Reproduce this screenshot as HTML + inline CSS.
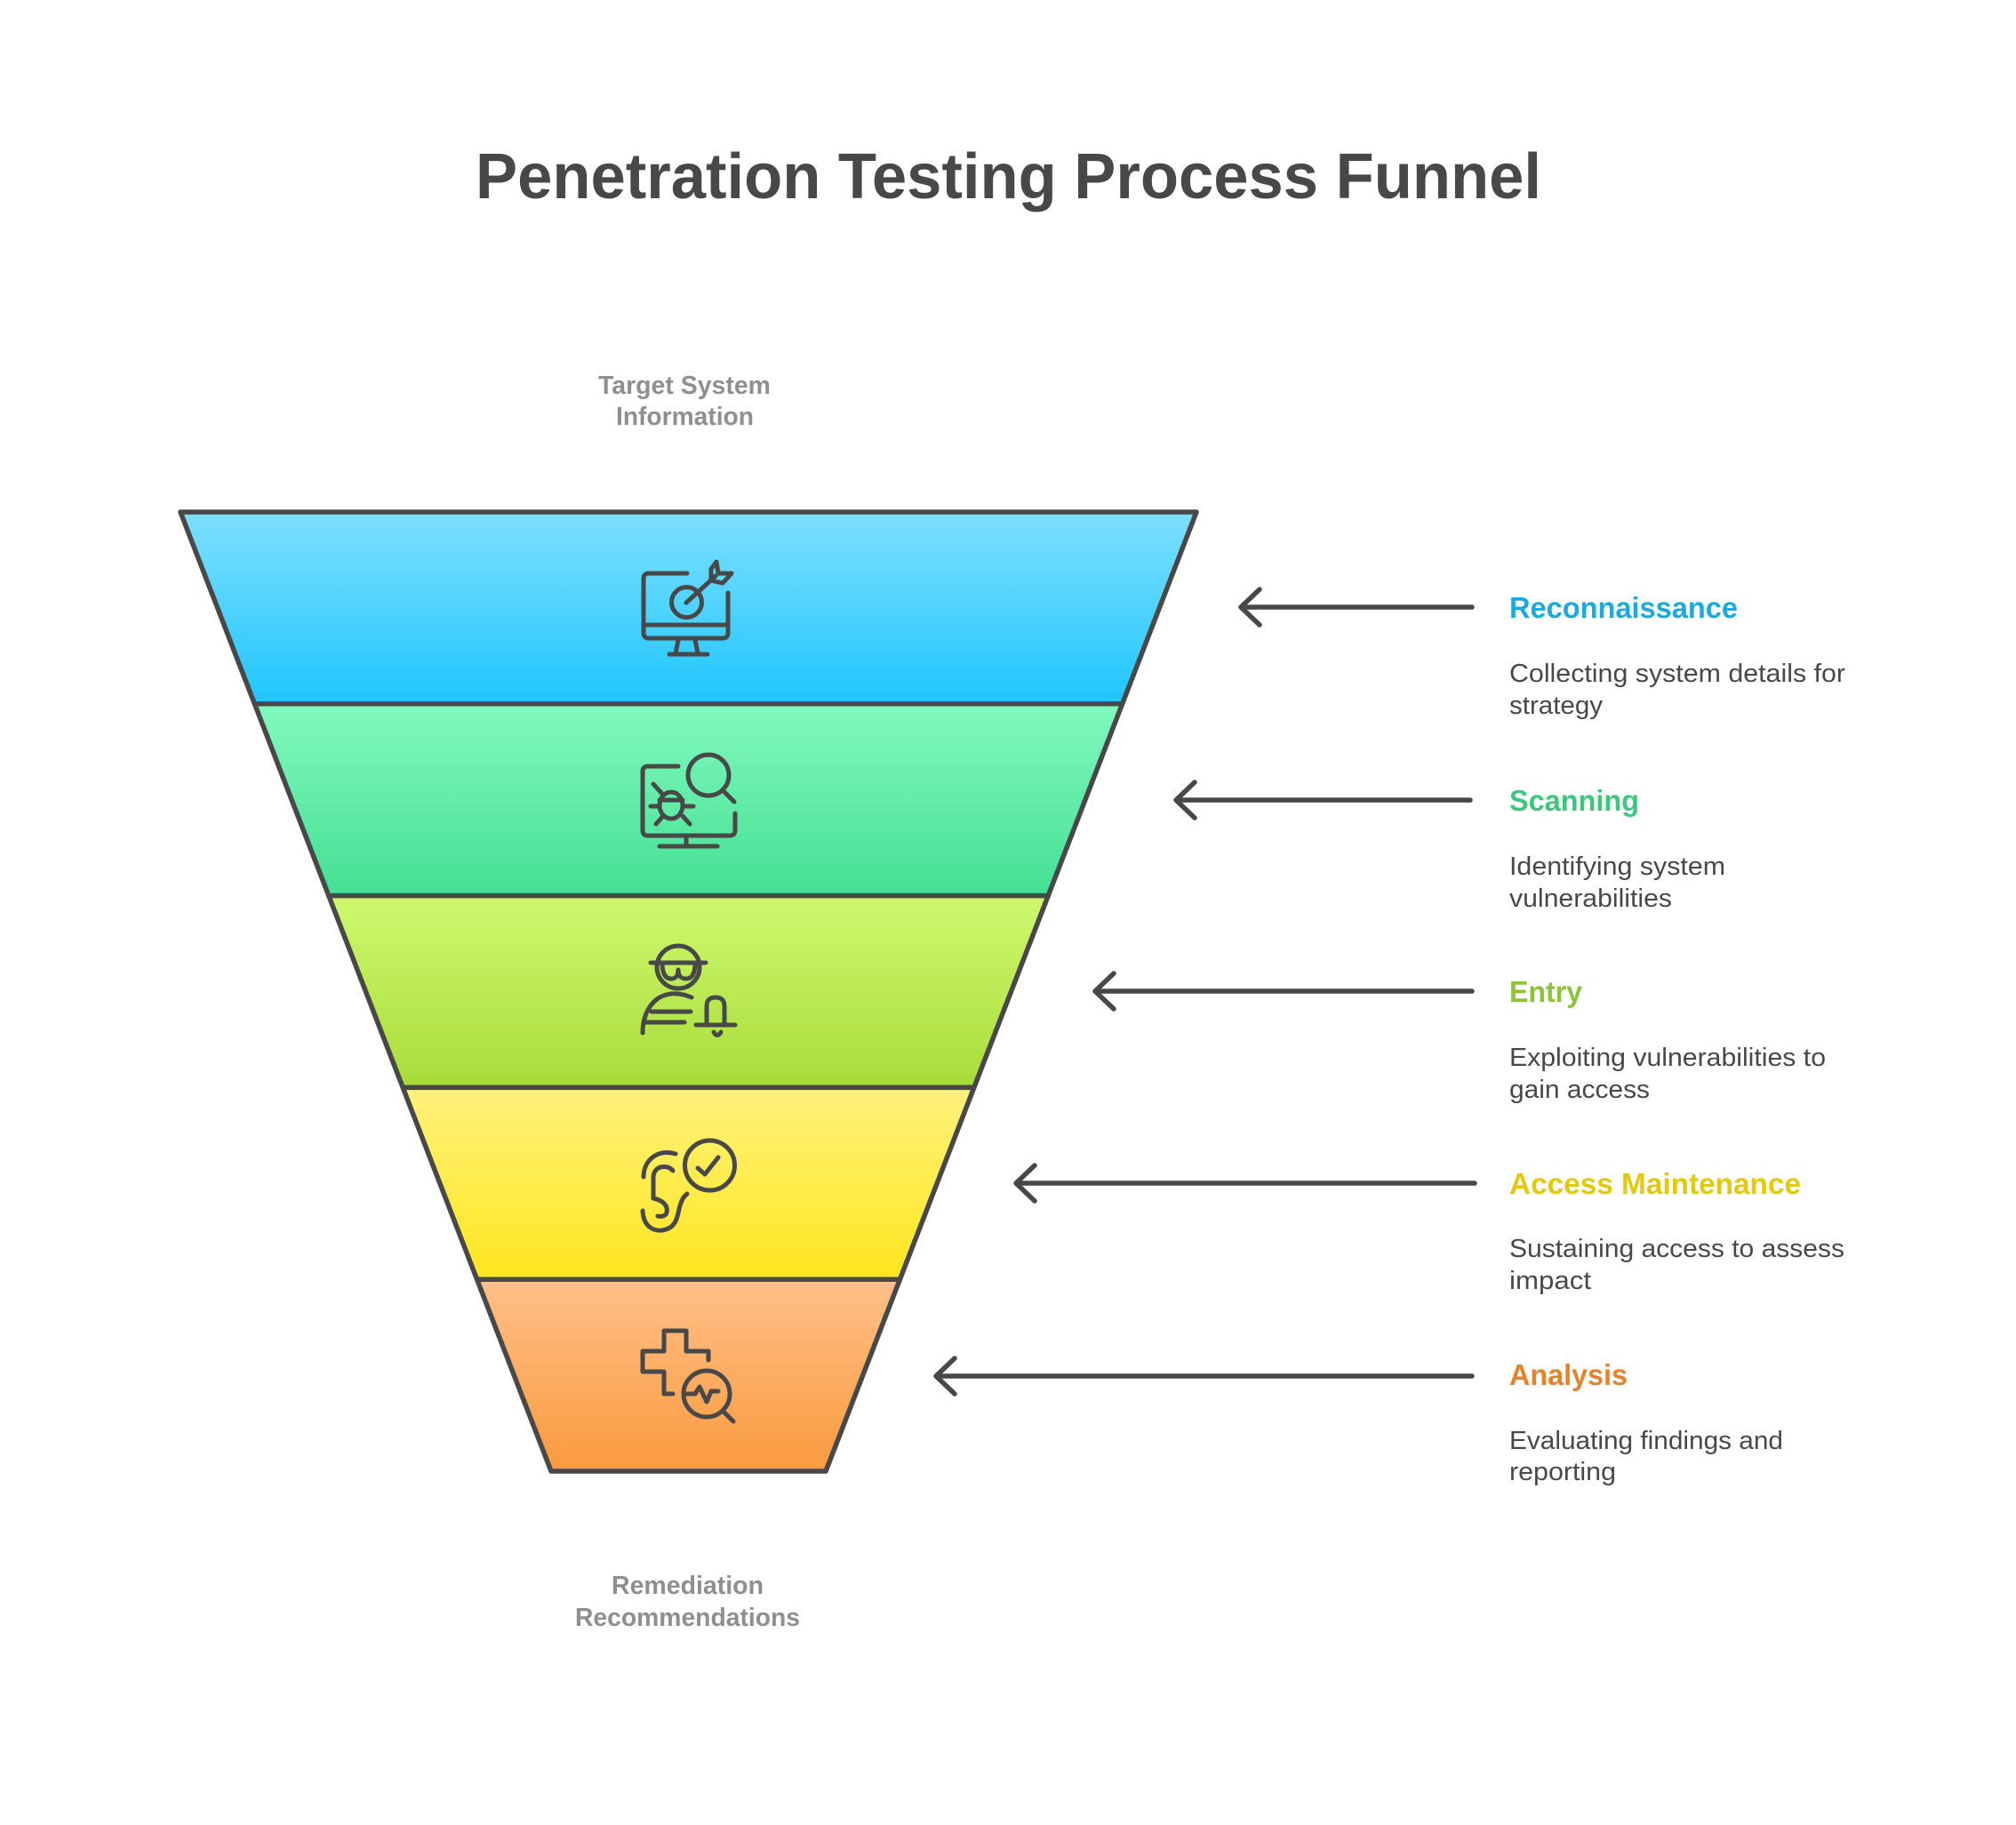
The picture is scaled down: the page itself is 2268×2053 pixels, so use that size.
<!DOCTYPE html>
<html>
<head>
<meta charset="utf-8">
<style>
  html, body { margin: 0; padding: 0; background: #ffffff; }
  body { width: 2268px; height: 2053px; overflow: hidden; }
  svg { display: block; }
  text { font-family: "Liberation Sans", Arial, sans-serif; }
</style>
</head>
<body>
<svg width="2268" height="2053" viewBox="0 0 2268 2053" xmlns="http://www.w3.org/2000/svg">
  <defs>
    <linearGradient id="g1" x1="0" y1="0" x2="0" y2="1">
      <stop offset="0" stop-color="#7edffe"/>
      <stop offset="1" stop-color="#1fc6fd"/>
    </linearGradient>
    <linearGradient id="g2" x1="0" y1="0" x2="0" y2="1">
      <stop offset="0" stop-color="#82f9be"/>
      <stop offset="1" stop-color="#44df93"/>
    </linearGradient>
    <linearGradient id="g3" x1="0" y1="0" x2="0" y2="1">
      <stop offset="0" stop-color="#cff86f"/>
      <stop offset="1" stop-color="#a8dc3a"/>
    </linearGradient>
    <linearGradient id="g4" x1="0" y1="0" x2="0" y2="1">
      <stop offset="0" stop-color="#fff27d"/>
      <stop offset="1" stop-color="#ffe61e"/>
    </linearGradient>
    <linearGradient id="g5" x1="0" y1="0" x2="0" y2="1">
      <stop offset="0" stop-color="#ffc089"/>
      <stop offset="1" stop-color="#fa9a3e"/>
    </linearGradient>
  </defs>

  <!-- Title -->
  <text x="535" y="223" font-size="72" font-weight="bold" fill="#484848" textLength="1199" lengthAdjust="spacingAndGlyphs">Penetration Testing Process Funnel</text>

  <!-- Top label -->
  <text x="673" y="443" font-size="29" font-weight="bold" fill="#8f8f8f" textLength="194" lengthAdjust="spacingAndGlyphs">Target System</text>
  <text x="693" y="478" font-size="29" font-weight="bold" fill="#8f8f8f" textLength="155" lengthAdjust="spacingAndGlyphs">Information</text>

  <!-- Bottom label -->
  <text x="688" y="1793" font-size="29" font-weight="bold" fill="#8f8f8f" textLength="171" lengthAdjust="spacingAndGlyphs">Remediation</text>
  <text x="647" y="1829" font-size="29" font-weight="bold" fill="#8f8f8f" textLength="253" lengthAdjust="spacingAndGlyphs">Recommendations</text>

  <!-- Funnel bands -->
  <g stroke="#484848" stroke-width="5.5" stroke-linejoin="round">
    <polygon points="203,576 1346,576 1262.6,791.8 286.4,791.8" fill="url(#g1)"/>
    <polygon points="286.4,791.8 1262.6,791.8 1179.2,1007.6 369.8,1007.6" fill="url(#g2)"/>
    <polygon points="369.8,1007.6 1179.2,1007.6 1095.8,1223.4 453.2,1223.4" fill="url(#g3)"/>
    <polygon points="453.2,1223.4 1095.8,1223.4 1012.4,1439.2 536.6,1439.2" fill="url(#g4)"/>
    <polygon points="536.6,1439.2 1012.4,1439.2 929,1655 620,1655" fill="url(#g5)"/>
  </g>

  <!-- Icons -->
  <g fill="none" stroke="#484848" stroke-width="5" stroke-linecap="round" stroke-linejoin="round">
    <!-- Icon 1: monitor with target -->
    <path d="M 773 645 L 730 645 Q 724 645 724 651 L 724 712 Q 724 718 730 718 L 813 718 Q 819 718 819 712 L 819 667"/>
    <path d="M 724 703 L 819 703"/>
    <path d="M 763 720 L 760 735 M 782 720 L 785 735 M 753 736 L 796 736"/>
    <circle cx="772.5" cy="677.5" r="17"/>
    <path d="M 772 678 L 805 648"/>
    <path d="M 800 653 L 800 640 L 806 632 L 808 645 L 823 645 L 813 656 Z"/>

    <!-- Icon 2: monitor with bug and magnifier -->
    <path d="M 763 862 L 729 862 Q 723 862 723 868 L 723 934 Q 723 940 729 940 L 821 940 Q 827 940 827 934 L 827 915"/>
    <path d="M 772 940 L 772 952 M 742 952 L 807 952"/>
    <circle cx="797" cy="872" r="23"/>
    <path d="M 814 890 L 826 902"/>
    <ellipse cx="755" cy="906" rx="13" ry="15"/>
    <path d="M 742 900 L 768 900"/>
    <path d="M 732 907 L 742 907 M 768 907 L 780 907"/>
    <path d="M 735 882 L 745 893 M 738 927 L 746 918 M 776 927 L 768 918"/>

    <!-- Icon 3: person with hat/glasses and bell -->
    <circle cx="763" cy="1088" r="24"/>
    <path d="M 732 1083 L 794 1083"/>
    <path d="M 745 1083 Q 745 1101 755 1101 Q 763 1101 763 1091 Q 763 1101 772 1101 Q 782 1101 782 1083"/>
    <path d="M 778 1122 C 745 1108 723 1130 723 1162"/>
    <path d="M 733 1138 L 777 1138 M 727 1150 L 770 1150"/>
    <path d="M 795 1153 L 795 1132 Q 795 1122 805 1122 Q 815 1122 815 1132 L 815 1153 M 783 1153 L 827 1153"/>
    <path d="M 803 1161 Q 807 1168 811 1161"/>

    <!-- Icon 4: ear with check -->
    <circle cx="798.5" cy="1311" r="28"/>
    <path d="M 785 1314 L 793 1321 L 808 1302"/>
    <path d="M 760 1298 C 740 1292 724 1305 724 1324"/>
    <path d="M 723 1362 C 724 1380 735 1385 745 1384 C 760 1382 762 1370 764 1360 C 766 1352 768 1347 773 1343"/>
    <path d="M 757 1317 C 752 1310 735 1310 735 1325 L 735 1348 C 745 1350 752 1356 750 1364 C 749 1368 744 1369 740 1368"/>

    <!-- Icon 5: cross with magnifier and pulse -->
    <path d="M 797 1530 L 797 1520 L 772 1520 L 772 1497 L 747 1497 L 747 1520 L 723 1520 L 723 1543 L 747 1543 L 747 1568 L 757 1568"/>
    <circle cx="795" cy="1568" r="26"/>
    <path d="M 815 1589 L 825 1599"/>
    <path d="M 772 1568 L 782 1568 L 787 1560 L 795 1577 L 800 1565 L 808 1565"/>
  </g>

  <!-- Arrows -->
  <g fill="none" stroke="#484848" stroke-width="5.5" stroke-linecap="round" stroke-linejoin="round">
    <path d="M 1656 683 L 1396 683 M 1417 663 L 1396 683 L 1417 703"/>
    <path d="M 1654 900 L 1323 900 M 1344 880 L 1323 900 L 1344 920"/>
    <path d="M 1656 1115 L 1232 1115 M 1253 1095 L 1232 1115 L 1253 1135"/>
    <path d="M 1659 1331 L 1143 1331 M 1164 1311 L 1143 1331 L 1164 1351"/>
    <path d="M 1656 1548 L 1053 1548 M 1074 1528 L 1053 1548 L 1074 1568"/>
  </g>

  <!-- Right side labels -->
  <text x="1698" y="695" font-size="33" font-weight="bold" fill="#1ca9de" textLength="257" lengthAdjust="spacingAndGlyphs">Reconnaissance</text>
  <text x="1698" y="767" font-size="29" fill="#484848" textLength="378" lengthAdjust="spacingAndGlyphs">Collecting system details for</text>
  <text x="1698" y="803" font-size="29" fill="#484848" textLength="105" lengthAdjust="spacingAndGlyphs">strategy</text>

  <text x="1698" y="912" font-size="33" font-weight="bold" fill="#3cc77d" textLength="146" lengthAdjust="spacingAndGlyphs">Scanning</text>
  <text x="1698" y="984" font-size="29" fill="#484848" textLength="243" lengthAdjust="spacingAndGlyphs">Identifying system</text>
  <text x="1698" y="1020" font-size="29" fill="#484848" textLength="183" lengthAdjust="spacingAndGlyphs">vulnerabilities</text>

  <text x="1698" y="1127" font-size="33" font-weight="bold" fill="#8dc33b" textLength="82" lengthAdjust="spacingAndGlyphs">Entry</text>
  <text x="1698" y="1199" font-size="29" fill="#484848" textLength="356" lengthAdjust="spacingAndGlyphs">Exploiting vulnerabilities to</text>
  <text x="1698" y="1235" font-size="29" fill="#484848" textLength="158" lengthAdjust="spacingAndGlyphs">gain access</text>

  <text x="1698" y="1343" font-size="33" font-weight="bold" fill="#e2c80f" textLength="328" lengthAdjust="spacingAndGlyphs">Access Maintenance</text>
  <text x="1698" y="1414" font-size="29" fill="#484848" textLength="377" lengthAdjust="spacingAndGlyphs">Sustaining access to assess</text>
  <text x="1698" y="1450" font-size="29" fill="#484848" textLength="92" lengthAdjust="spacingAndGlyphs">impact</text>

  <text x="1698" y="1558" font-size="33" font-weight="bold" fill="#e5832b" textLength="133" lengthAdjust="spacingAndGlyphs">Analysis</text>
  <text x="1698" y="1630" font-size="29" fill="#484848" textLength="308" lengthAdjust="spacingAndGlyphs">Evaluating findings and</text>
  <text x="1698" y="1665" font-size="29" fill="#484848" textLength="120" lengthAdjust="spacingAndGlyphs">reporting</text>
</svg>
</body>
</html>
